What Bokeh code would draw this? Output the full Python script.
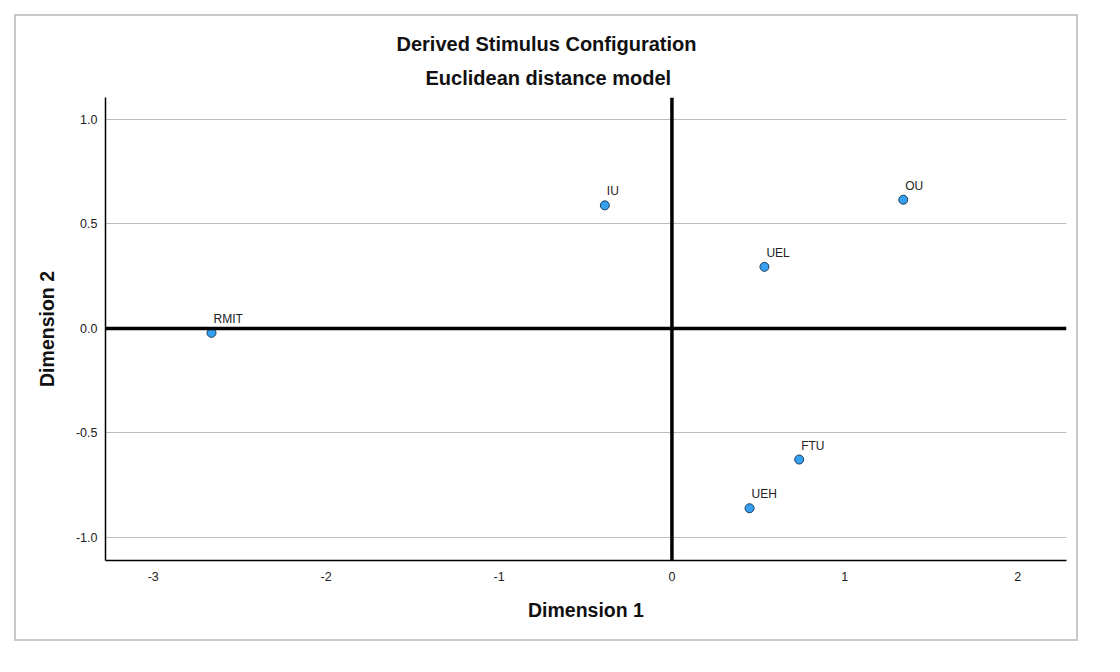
from bokeh.plotting import figure
from bokeh.models import ColumnDataSource, Span, Title, FixedTicker, PrintfTickFormatter, Range1d
from bokeh.core.properties import value
from bokeh.embed import file_html
from bokeh.resources import INLINE

# Data
labels = ["RMIT", "IU", "UEL", "OU", "FTU", "UEH"]
dim1 = [-2.663, -0.388, 0.535, 1.338, 0.736, 0.449]
dim2 = [-0.021, 0.589, 0.295, 0.616, -0.627, -0.860]
x_ticks = [-3, -2, -1, 0, 1, 2]
y_ticks = [-1.0, -0.5, 0.0, 0.5, 1.0]
title_line1 = "Derived Stimulus Configuration"
title_line2 = "Euclidean distance model"

FONT = "Liberation Sans"

src = ColumnDataSource(dict(x=dim1, y=dim2, label=labels))

p = figure(frame_width=961, frame_height=463,
           min_border_left=89, min_border_top=81, min_border_right=10, min_border_bottom=79,
           x_range=Range1d(-3.276, 2.282), y_range=Range1d(-1.11, 1.105),
           output_backend="svg", toolbar_location=None, tools="")
p.outline_line_color = None
p.background_fill_color = "white"
p.border_fill_color = "white"
p.margin = (14, 0, 0, 14)
p.styles = {"border": "2px solid #c8c8c8"}

# titles (centred on the whole chart box, so left-aligned with offset)
t2 = Title(text=title_line2, align="left", offset=320, text_font=FONT,
           text_font_size="20px", text_font_style="bold", text_color="#111111",
           standoff=17)
t1 = Title(text=title_line1, align="left", offset=291, text_font=FONT,
           text_font_size="20px", text_font_style="bold", text_color="#111111",
           standoff=3)
p.add_layout(t2, "above")
p.add_layout(t1, "above")

# grid
p.xgrid.grid_line_color = None
p.ygrid.grid_line_color = "#bcbcbc"
p.ygrid.grid_line_width = 1
p.ygrid.ticker = FixedTicker(ticks=y_ticks)

# axes
for ax in (p.xaxis[0], p.yaxis[0]):
    ax.axis_line_color = "black"
    ax.axis_line_width = 1.5
    ax.major_tick_line_color = None
    ax.minor_tick_line_color = None
    ax.major_label_text_font = FONT
    ax.major_label_text_font_size = "12.5px"
    ax.major_label_text_color = "#222222"
    ax.axis_label_text_font = FONT
    ax.axis_label_text_font_size = "19.5px"
    ax.axis_label_text_font_style = "bold"
    ax.axis_label_text_color = "#111111"

p.xaxis.ticker = FixedTicker(ticks=x_ticks)
p.yaxis.ticker = FixedTicker(ticks=y_ticks)
p.xaxis.formatter = PrintfTickFormatter(format="%d")
p.yaxis.formatter = PrintfTickFormatter(format="%.1f")
p.xaxis.axis_label = "Dimension 1"
p.yaxis.axis_label = "Dimension 2"
p.xaxis.major_label_standoff = 5
p.yaxis.major_label_standoff = 2
p.xaxis.axis_label_standoff = 15
p.yaxis.axis_label_standoff = 15

# points
p.scatter("x", "y", source=src, size=9, fill_color="#36a0f0",
          line_color="#1c3d5a", line_width=1)
p.text("x", "y", text="label", source=src, x_offset=2, y_offset=-14,
       text_baseline="alphabetic", text_align="left",
       text_font=value(FONT), text_font_size="12px", text_color="#222222")

# zero reference lines
p.add_layout(Span(location=0, dimension="height", line_color="black", line_width=3.5))
p.add_layout(Span(location=0, dimension="width", line_color="black", line_width=3.5))

open("out.html", "w").write(file_html(p, INLINE))
